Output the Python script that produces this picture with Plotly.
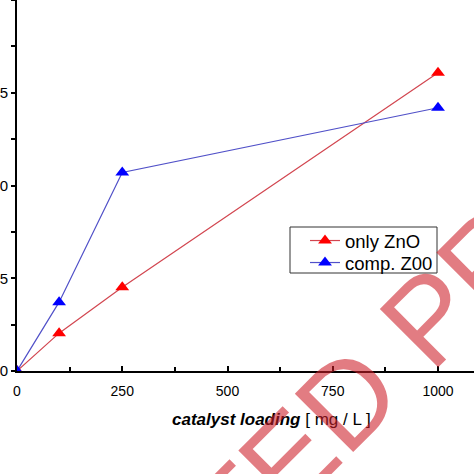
import plotly.graph_objects as go

loading = [0, 100, 250, 1000]
only_zno = [0, 2.04, 4.52, 16.08]
comp_z00 = [0, 3.71, 10.7, 14.19]
x_ticks = [0, 250, 500, 750, 1000]
y_ticks = [0, 5, 10, 15, 20]

FONT = "Arial, Liberation Sans, sans-serif"

def px_x(p):
    return (p - 17) / 457

def px_y(p):
    return (371 - p) / 371

fig = go.Figure()
fig.add_trace(go.Scatter(
    x=loading, y=only_zno, mode="lines+markers", name="only ZnO",
    line=dict(color="rgb(210,70,80)", width=1.2),
    marker=dict(symbol="triangle-up", size=12, color="rgb(255,0,0)"),
    legend="legend",
))
fig.add_trace(go.Scatter(
    x=loading, y=comp_z00, mode="lines+markers", name="comp. Z00",
    line=dict(color="rgb(80,80,200)", width=1.2),
    marker=dict(symbol="triangle-up", size=12, color="rgb(0,0,255)"),
    legend="legend2",
))

leg_common = dict(
    xanchor="left", yanchor="middle", bgcolor="rgba(0,0,0,0)", borderwidth=0,
    font=dict(size=18.5, family=FONT), itemwidth=30,
)
fig.update_layout(
    width=474, height=474,
    margin=dict(l=17, r=0, t=0, b=103, autoexpand=False),
    plot_bgcolor="white", paper_bgcolor="white",
    font=dict(family=FONT, color="black", size=14),
    showlegend=True,
    legend=dict(x=px_x(305), y=px_y(241), **leg_common),
    legend2=dict(x=px_x(305), y=px_y(263), **leg_common),
)
fig.add_shape(
    type="rect", xref="paper", yref="paper",
    x0=px_x(290), x1=px_x(437), y0=px_y(273), y1=px_y(227),
    line=dict(color="#333", width=1), fillcolor="white", layer="above",
)
fig.update_xaxes(
    range=[0, 1085.5], tickvals=x_ticks, ticktext=[str(v) for v in x_ticks],
    ticks="inside", ticklen=5, tickwidth=1.5, tickcolor="black",
    minor=dict(tickvals=[125, 375, 625, 875], ticks="inside", ticklen=4, tickcolor="black", tickwidth=1.5),
    showline=True, linecolor="black", linewidth=2, showgrid=False, zeroline=False,
    tickfont=dict(size=14), ticklabelstandoff=6, automargin=False,
)
fig.update_yaxes(
    range=[0, 20], tickvals=y_ticks, ticktext=[str(v) for v in y_ticks],
    ticks="outside", ticklen=4, tickwidth=1.5, tickcolor="black",
    minor=dict(tickvals=[2.5, 7.5, 12.5, 17.5], ticks="outside", ticklen=4, tickcolor="black", tickwidth=1.5),
    showline=True, linecolor="black", linewidth=2, showgrid=False, zeroline=False,
    tickfont=dict(size=15), automargin=False,
)

fig.add_annotation(
    xref="paper", yref="paper", x=px_x(271), y=px_y(419),
    xanchor="center", yanchor="middle",
    text="<b><i>catalyst loading</i></b> [ mg / L ]", showarrow=False,
    font=dict(size=17, family=FONT, color="black"),
)

fig.add_annotation(
    xref="paper", yref="paper", x=px_x(309), y=px_y(437),
    xanchor="center", yanchor="middle",
    text="ACCEPTED PROOF", showarrow=False, textangle=-45,
    font=dict(size=120, family=FONT, color="rgba(205,30,40,0.58)"),
)

fig.write_html("out.html")
